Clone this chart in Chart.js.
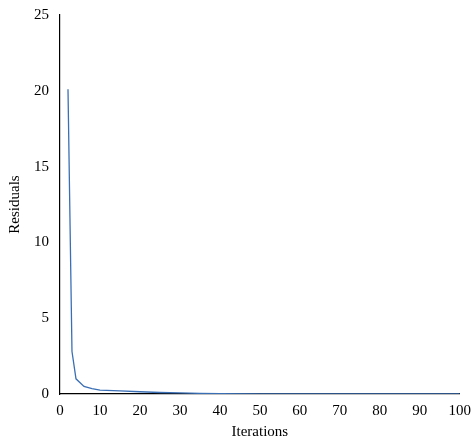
<!DOCTYPE html>
<html><head><meta charset="utf-8">
<script src="https://cdn.jsdelivr.net/npm/chart.js@4"></script>
<style>html,body{margin:0;background:#fff}#wrap{width:474px;height:437px}</style>
</head><body><div id="wrap"><canvas id="c"></canvas></div>
<script>
const iterations = [2, 3, 4, 6, 8, 10, 15, 20, 25, 30, 35, 40, 50, 60, 70, 80, 90, 100];
const residuals = [20.1, 2.8, 1.0, 0.5, 0.35, 0.25, 0.2, 0.15, 0.1, 0.07, 0.04, 0.02, 0.01, 0.01, 0.01, 0.01, 0.01, 0.01];
const xTicks = [0, 10, 20, 30, 40, 50, 60, 70, 80, 90, 100];
const yTicks = [0, 5, 10, 15, 20, 25];

Chart.defaults.font.family = 'Liberation Serif';
Chart.defaults.font.size = 15;
Chart.defaults.color = '#000';

new Chart(document.getElementById('c'), {
    type: 'line',
    data: {
        datasets: [{
            data: iterations.map((x, i) => ({ x: x, y: residuals[i] })),
            borderColor: '#3a6fb5',
            borderWidth: 1.3,
            pointRadius: 0,
            tension: 0
        }]
    },
    options: {
        animation: false,
        responsive: true,
        maintainAspectRatio: false,
        layout: { padding: { top: 0, right: 10, left: 6, bottom: -4 } },
        plugins: { legend: { display: false }, tooltip: { enabled: false } },
        scales: {
            x: {
                type: 'linear', min: 0, max: 100,
                afterBuildTicks: (s) => { s.ticks = xTicks.map(v => ({ value: v })); },
                grid: { display: false, drawTicks: true, tickLength: 5, tickColor: '#000' },
                border: { color: '#000', width: 1.2 },
                ticks: { padding: 3, maxRotation: 0 },
                title: { display: true, text: 'Iterations', padding: { top: 0, bottom: 0 } }
            },
            y: {
                min: 0, max: 25,
                afterBuildTicks: (s) => { s.ticks = yTicks.map(v => ({ value: v })); },
                grid: { display: false, drawTicks: true, tickLength: 5, tickColor: '#000' },
                border: { color: '#000', width: 1.2 },
                ticks: { padding: 6 },
                title: { display: true, text: 'Residuals', padding: { top: 0, bottom: 4 } }
            }
        }
    }
});
</script></body></html>
